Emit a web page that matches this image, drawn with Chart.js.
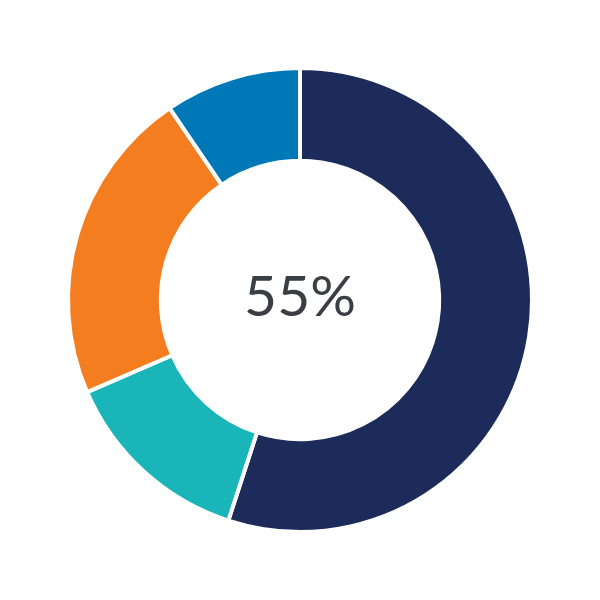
<!DOCTYPE html>
<html>
<head>
<meta charset="utf-8">
<script src="https://cdn.jsdelivr.net/npm/chart.js@4/dist/chart.umd.min.js"></script>
<style>
html,body{margin:0;padding:0;background:#fff;}
#wrap{position:relative;width:600px;height:600px;}
#center{position:absolute;left:0;top:-6px;width:600px;height:600px;display:flex;align-items:center;justify-content:center;font-family:Lato,"Open Sans",sans-serif;font-weight:400;font-size:57px;color:#3a3f46;pointer-events:none;}
</style>
</head>
<body>
<div id="wrap">
<canvas id="c" width="600" height="600"></canvas>
<div id="center">55%</div>
</div>
<script>
const categories = ["A", "B", "C", "D"];
const values = [55, 13.5, 22, 9.5];
const colors = ["#1c2b5a", "#1ab5b8", "#f47d20", "#0077b6"];

new Chart(document.getElementById('c'), {
  type: 'doughnut',
  data: {
    labels: categories,
    datasets: [{
      data: values,
      backgroundColor: colors,
      borderColor: '#ffffff',
      borderWidth: 4
    }]
  },
  options: {
    responsive: false,
    animation: false,
    cutout: '60%',
    layout: { padding: 66 },
    plugins: { legend: { display: false }, tooltip: { enabled: false } }
  }
});
</script>
</body>
</html>
